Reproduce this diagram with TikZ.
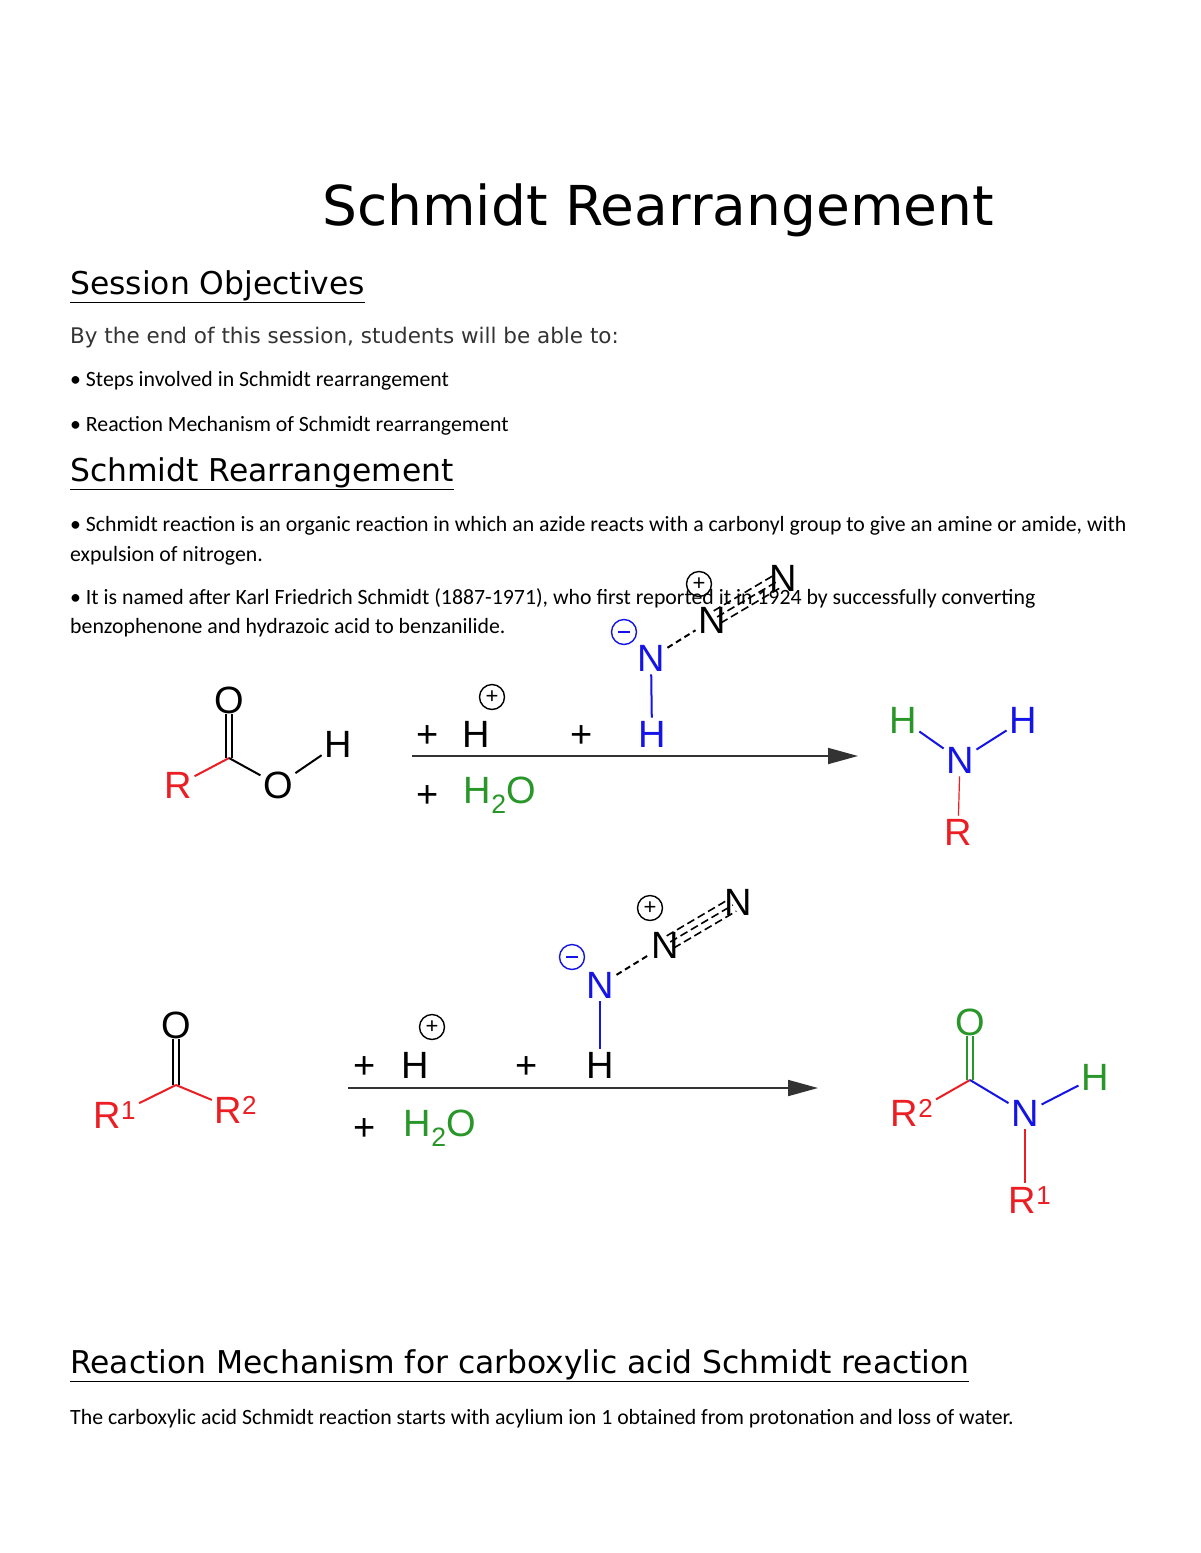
\documentclass[tikz,border=0pt]{standalone}
\usepackage{fontspec}
\setmainfont{Carlito}
\newfontfamily\dv{DejaVu Sans}
\newfontfamily\ls{Liberation Sans}
\usetikzlibrary{arrows.meta}
\definecolor{cred}{RGB}{235,30,35}
\definecolor{cgreen}{RGB}{40,150,40}
\definecolor{cblue}{RGB}{20,20,230}
\tikzset{
  atm/.style={font=\ls\fontsize{38}{38}\selectfont,inner sep=0pt},
  bd/.style={line width=2pt,shorten <=3pt,shorten >=3pt},
  chg/.style={circle,draw,line width=1.4pt,minimum size=25pt,inner sep=0pt,font=\ls\fontsize{22}{22}\selectfont},
  txt/.style={anchor=west,inner sep=0pt,font=\fontsize{21.8}{24}\selectfont},
  hd/.style={anchor=west,inner sep=0pt,font=\dv\fontsize{31.4}{34}\selectfont},
  rxn/.style={line width=1.8pt,draw=black!80,-{Triangle[length=30pt,width=16pt]}},
  trip/.style={line width=1.6pt,dash pattern=on 8pt off 4pt,shorten <=6pt,shorten >=6pt},
}
\newcommand{\ul}[1]{\underline{#1}}
\begin{document}
\begin{tikzpicture}[x=1pt,y=-1pt]
\useasboundingbox (0,0) rectangle (1200,1553);
\fill[white] (0,0) rectangle (1200,1553);
% text
\node[inner sep=0pt,font=\dv\fontsize{55}{60}\selectfont] (title) at (658,210) {Schmidt Rearrangement};
\node[hd] (h1) at (70,287) {\ul{Session Objectives}};
\node[txt,font=\dv\fontsize{21.5}{24}\selectfont,text=black!80] (t1) at (70,338) {By the end of this session, students will be able to:};
\node[txt] (t2) at (70,381) {\textbullet{} Steps involved in Schmidt rearrangement};
\node[txt] (t3) at (70,426) {\textbullet{} Reaction Mechanism of Schmidt rearrangement};
\node[hd] (h2) at (70,474) {\ul{Schmidt Rearrangement}};
\node[txt] (t4) at (70,526) {\textbullet{} Schmidt reaction is an organic reaction in which an azide reacts with a carbonyl group to give an amine or amide, with};
\node[txt] (t5) at (70,556) {expulsion of nitrogen.};
\node[txt] (t6) at (70,598) {\textbullet{} It is named after Karl Friedrich Schmidt (1887-1971), who first reported it in 1924 by successfully converting};
\node[txt] (t7) at (70,628) {benzophenone and hydrazoic acid to benzanilide.};
\node[hd] (h3) at (70,1366) {\ul{Reaction Mechanism for carboxylic acid Schmidt reaction}};
\node[txt] (t8) at (70,1419) {The carboxylic acid Schmidt reaction starts with acylium ion 1 obtained from protonation and loss of water.};

% ---------- scheme 1
\node[atm] (o1) at (229,700) {O};
\coordinate (c1) at (229,758);
\node[atm,text=cred] (r1) at (178,785) {R};
\node[atm] (o2) at (278,785) {O};
\node[atm] (h1a) at (338,744) {H};
\draw[line width=2pt] ([xshift=-3pt]c1) -- ([xshift=-3pt]o1.south);
\draw[line width=2pt] ([xshift=3pt]c1) -- ([xshift=3pt]o1.south);
\draw[bd,cred,shorten >=0pt] (r1) -- (c1);
\draw[bd,shorten <=0pt] (c1) -- (o2);
\draw[bd] (o2) -- (h1a);
\coordinate (a1s) at (412,756); \coordinate (a1e) at (858,756);
\draw[rxn] (a1s) -- (a1e);
\node[atm] (p1) at (428,737) {+};
\node[atm] (hp1) at (476,734) {H};
\node[chg] (hc1) at (492,697) {+};
\node[atm] (p2) at (582,737) {+};
\node[atm,text=cblue] (hn1) at (652,734) {H};
\node[atm,text=cblue] (n1a) at (651,658) {N};
\node[chg,cblue] (m1) at (624,632) {};
\draw[cblue,line width=1.6pt] ([xshift=-6pt]m1.center) -- ([xshift=6pt]m1.center);
\node[atm] (n1b) at (712,620) {N};
\node[chg] (pc1) at (699,584) {+};
\node[atm] (n1c) at (783,578) {N};
\draw[bd,cblue] (hn1) -- (n1a);
\draw[bd,dash pattern=on 6pt off 4pt] (n1a) -- (n1b);
\foreach \d in {-7,0,7}
  \draw[trip] ([shift={(\d*0.5,\d*0.87)}]n1b.center) -- ([shift={(\d*0.5,\d*0.87)}]n1c.center);
\node[atm] (pl3) at (428,797) {+};
\node[atm,text=cgreen] (w1) at (500,795) {H\textsubscript{2}O};
\node[atm,text=cgreen] (ha) at (903,720) {H};
\node[atm,text=cblue] (np) at (960,760) {N};
\node[atm,text=cblue] (hb) at (1023,720) {H};
\node[atm,text=cred] (rp) at (958,832) {R};
\draw[bd,cblue] (ha) -- (np);
\draw[bd,cblue] (hb) -- (np);
\draw[bd,cred,line width=1.2pt] (np) -- (rp);

% ---------- scheme 2
\node[atm] (o3) at (176,1025) {O};
\coordinate (c2) at (176,1085);
\node[atm,text=cred] (ra) at (115,1115) {R\textsuperscript{\fontsize{26}{26}\selectfont 1}};
\node[atm,text=cred] (rb) at (236,1110) {R\textsuperscript{\fontsize{26}{26}\selectfont 2}};
\draw[line width=2pt] ([xshift=-3pt]c2) -- ([xshift=-3pt]o3.south);
\draw[line width=2pt] ([xshift=3pt]c2) -- ([xshift=3pt]o3.south);
\draw[bd,cred,shorten >=0pt] (ra) -- (c2);
\draw[bd,cred,shorten <=0pt] (c2) -- (rb);
\coordinate (a2s) at (348,1088); \coordinate (a2e) at (818,1088);
\draw[rxn] (a2s) -- (a2e);
\node[atm] (p4) at (365,1068) {+};
\node[atm] (hp2) at (415,1065) {H};
\node[chg] (hc2) at (432,1027) {+};
\node[atm] (p5) at (527,1068) {+};
\node[atm] (hn2) at (600,1065) {H};
\node[atm,text=cblue] (n2a) at (600,985) {N};
\node[chg,cblue] (m2) at (572,957) {};
\draw[cblue,line width=1.6pt] ([xshift=-6pt]m2.center) -- ([xshift=6pt]m2.center);
\node[atm] (n2b) at (665,945) {N};
\node[chg] (pc2) at (650,908) {+};
\node[atm] (n2c) at (738,902) {N};
\draw[bd,cblue] (hn2) -- (n2a);
\draw[bd,dash pattern=on 6pt off 4pt] (n2a) -- (n2b);
\foreach \d in {-7,0,7}
  \draw[trip] ([shift={(\d*0.5,\d*0.87)}]n2b.center) -- ([shift={(\d*0.5,\d*0.87)}]n2c.center);
\node[atm] (p6) at (365,1130) {+};
\node[atm,text=cgreen] (w2) at (440,1128) {H\textsubscript{2}O};
\node[atm,text=cgreen] (o4) at (970,1022) {O};
\coordinate (c3) at (970,1080);
\node[atm,text=cred] (rc) at (912,1113) {R\textsuperscript{\fontsize{26}{26}\selectfont 2}};
\node[atm,text=cblue] (n3) at (1025,1113) {N};
\node[atm,text=cgreen] (h3) at (1095,1077) {H};
\node[atm,text=cred] (rd) at (1030,1200) {R\textsuperscript{\fontsize{26}{26}\selectfont 1}};
\draw[line width=2pt,cgreen] ([xshift=-3pt]c3) -- ([xshift=-3pt]o4.south);
\draw[line width=2pt,cgreen] ([xshift=3pt]c3) -- ([xshift=3pt]o4.south);
\draw[bd,cred,shorten >=0pt] (rc) -- (c3);
\draw[bd,cblue,shorten <=0pt] (c3) -- (n3);
\draw[bd,cblue] (n3) -- (h3);
\draw[bd,cred] (n3) -- (rd.north -| n3);
\end{tikzpicture}
\end{document}
